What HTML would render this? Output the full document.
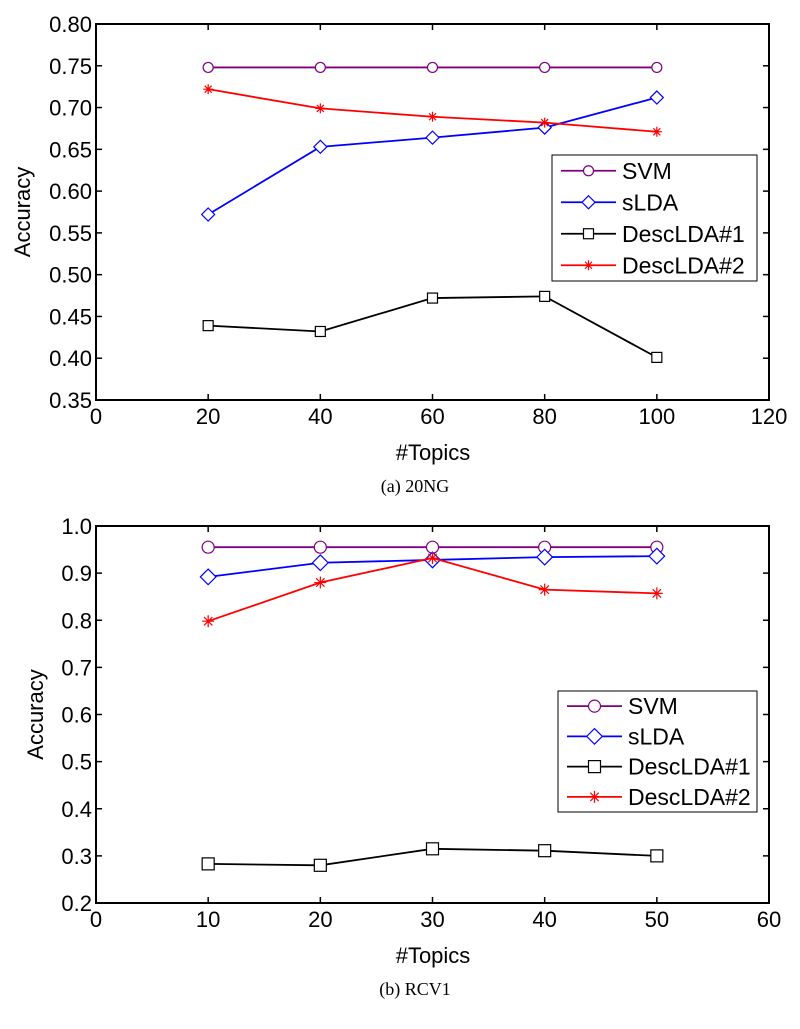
<!DOCTYPE html>
<html><head><meta charset="utf-8">
<style>
html,body{margin:0;padding:0;background:#fff;}
svg{display:block;font-family:"Liberation Sans",Arial,sans-serif;}
</style></head>
<body>
<svg id="svg" width="800" height="1029" viewBox="0 0 800 1029" xmlns="http://www.w3.org/2000/svg"></svg>
<script>
const seriesNames = ["SVM","sLDA","DescLDA#1","DescLDA#2"];
const seriesColors = ["#7f007f","#0000ff","#000000","#ff0000"];
const seriesMarkers = ["circle","diamond","square","star"];

const topicsA = [20,40,60,80,100];
const svmA = [0.748,0.748,0.748,0.748,0.748];
const sldaA = [0.572,0.653,0.664,0.676,0.712];
const desc1A = [0.439,0.432,0.472,0.474,0.401];
const desc2A = [0.722,0.699,0.689,0.682,0.671];
const xTicksA = [0,20,40,60,80,100,120];
const yTicksA = [0.35,0.40,0.45,0.50,0.55,0.60,0.65,0.70,0.75,0.80];

const topicsB = [10,20,30,40,50];
const svmB = [0.955,0.955,0.955,0.955,0.955];
const sldaB = [0.892,0.922,0.928,0.934,0.936];
const desc1B = [0.283,0.280,0.315,0.311,0.300];
const desc2B = [0.798,0.880,0.932,0.865,0.857];
const xTicksB = [0,10,20,30,40,50,60];
const yTicksB = [0.2,0.3,0.4,0.5,0.6,0.7,0.8,0.9,1.0];

const NS="http://www.w3.org/2000/svg";
const svg=document.getElementById('svg');
function mk(tag,attrs,parent){const e=document.createElementNS(NS,tag);for(const k in attrs)e.setAttribute(k,attrs[k]);(parent||svg).appendChild(e);return e;}

function marker(g,type,x,y,color,s){
  let e;
  if(type==="circle"){e=mk('circle',{cx:x,cy:y,r:s,fill:'#fff',stroke:color,'stroke-width':1.2},g);}
  else if(type==="diamond"){e=mk('polygon',{points:`${x},${y-s*1.3} ${x+s*1.3},${y} ${x},${y+s*1.3} ${x-s*1.3},${y}`,fill:'#fff',stroke:color,'stroke-width':1.2},g);}
  else if(type==="square"){e=mk('rect',{x:x-s,y:y-s,width:2*s,height:2*s,fill:'#fff',stroke:color,'stroke-width':1.2},g);}
  else {e=mk('path',{d:`M${x-s},${y}H${x+s}M${x},${y-s}V${y+s}M${x-s*0.7},${y-s*0.7}L${x+s*0.7},${y+s*0.7}M${x-s*0.7},${y+s*0.7}L${x+s*0.7},${y-s*0.7}`,stroke:color,'stroke-width':1.2,fill:'none'},g);}
  
  
}

function chart(cfg){
  const g=mk('g',{});
  
  
  const L=96,R=769,T=cfg.top,B=cfg.bottom;
  const xMin=cfg.xTicks[0],xMax=cfg.xTicks[cfg.xTicks.length-1];
  const yMin=cfg.yTicks[0],yMax=cfg.yTicks[cfg.yTicks.length-1];
  const X=v=>L+(v-xMin)/(xMax-xMin)*(R-L);
  const Y=v=>B-(v-yMin)/(yMax-yMin)*(B-T);
  const frame=mk('rect',{x:L,y:T,width:R-L,height:B-T,fill:'#fff',stroke:'#000','stroke-width':2},g);
  
  cfg.xTicks.forEach(v=>{
    const x=X(v);
    mk('line',{x1:x,y1:B,x2:x,y2:B-6,stroke:'#000','stroke-width':1.5},g);
    mk('line',{x1:x,y1:T,x2:x,y2:T+6,stroke:'#000','stroke-width':1.5},g);
    const t=mk('text',{x:x,y:B+24,'font-size':22,'text-anchor':'middle'},g);t.textContent=v;
    
  });
  cfg.yTicks.forEach(v=>{
    const y=Y(v);
    mk('line',{x1:L,y1:y,x2:L+6,y2:y,stroke:'#000','stroke-width':1.5},g);
    mk('line',{x1:R,y1:y,x2:R-6,y2:y,stroke:'#000','stroke-width':1.5},g);
    const t=mk('text',{x:L-4,y:y+8,'font-size':22,'text-anchor':'end'},g);t.textContent=v.toFixed(cfg.dec);
    
  });
  const xt=mk('text',{x:433,y:B+60,'font-size':22,'text-anchor':'middle'},g);xt.textContent='#Topics';
  
  const yx=cfg.yTitleX, yy=(T+B)/2;
  const yt=mk('text',{x:yx,y:yy,'font-size':22,'text-anchor':'middle',transform:`rotate(-90 ${yx} ${yy})`},g);yt.textContent='Accuracy';
  
  const cap=mk('text',{x:415,y:B+92,'font-size':18,'text-anchor':'middle','font-family':'Liberation Serif,serif'},g);cap.textContent=cfg.caption;
  
  cfg.series.forEach((vals,i)=>{
    const pts=vals.map((v,j)=>X(cfg.xs[j])+','+Y(v)).join(' ');
    const pl=mk('polyline',{points:pts,fill:'none',stroke:seriesColors[i],'stroke-width':1.8},g);
    
    
    vals.forEach((v,j)=>marker(g,seriesMarkers[i],X(cfg.xs[j]),Y(v),seriesColors[i],cfg.ms));
  });
  const lg=cfg.legend;
  const lr=mk('rect',{x:lg.x,y:lg.y,width:lg.w,height:lg.h,fill:'#fff',stroke:'#000','stroke-width':1},g);
  
  const rowH=lg.h/4;
  seriesNames.forEach((n,i)=>{
    const cy=lg.y+rowH*(i+0.5);
    const lx=lg.x+9;
    const ln=mk('line',{x1:lx,y1:cy,x2:lx+55,y2:cy,stroke:seriesColors[i],'stroke-width':1.8},g);
    
    marker(g,seriesMarkers[i],lx+27.5,cy,seriesColors[i],cfg.ms);
    const t=mk('text',{x:lx+61,y:cy+8,'font-size':23},g);t.textContent=n;
    
  });
}

chart({name:'chart-20ng',top:24,bottom:400,xTicks:xTicksA,yTicks:yTicksA,dec:2,xs:topicsA,
  series:[svmA,sldaA,desc1A,desc2A],caption:'(a) 20NG',yTitleX:30,ms:5,
  legend:{x:552,y:155,w:205,h:126}});
chart({name:'chart-rcv1',top:526,bottom:903,xTicks:xTicksB,yTicks:yTicksB,dec:1,xs:topicsB,
  series:[svmB,sldaB,desc1B,desc2B],caption:'(b) RCV1',yTitleX:43,ms:6,
  legend:{x:558,y:691,w:199,h:121}});
</script>
</body></html>
